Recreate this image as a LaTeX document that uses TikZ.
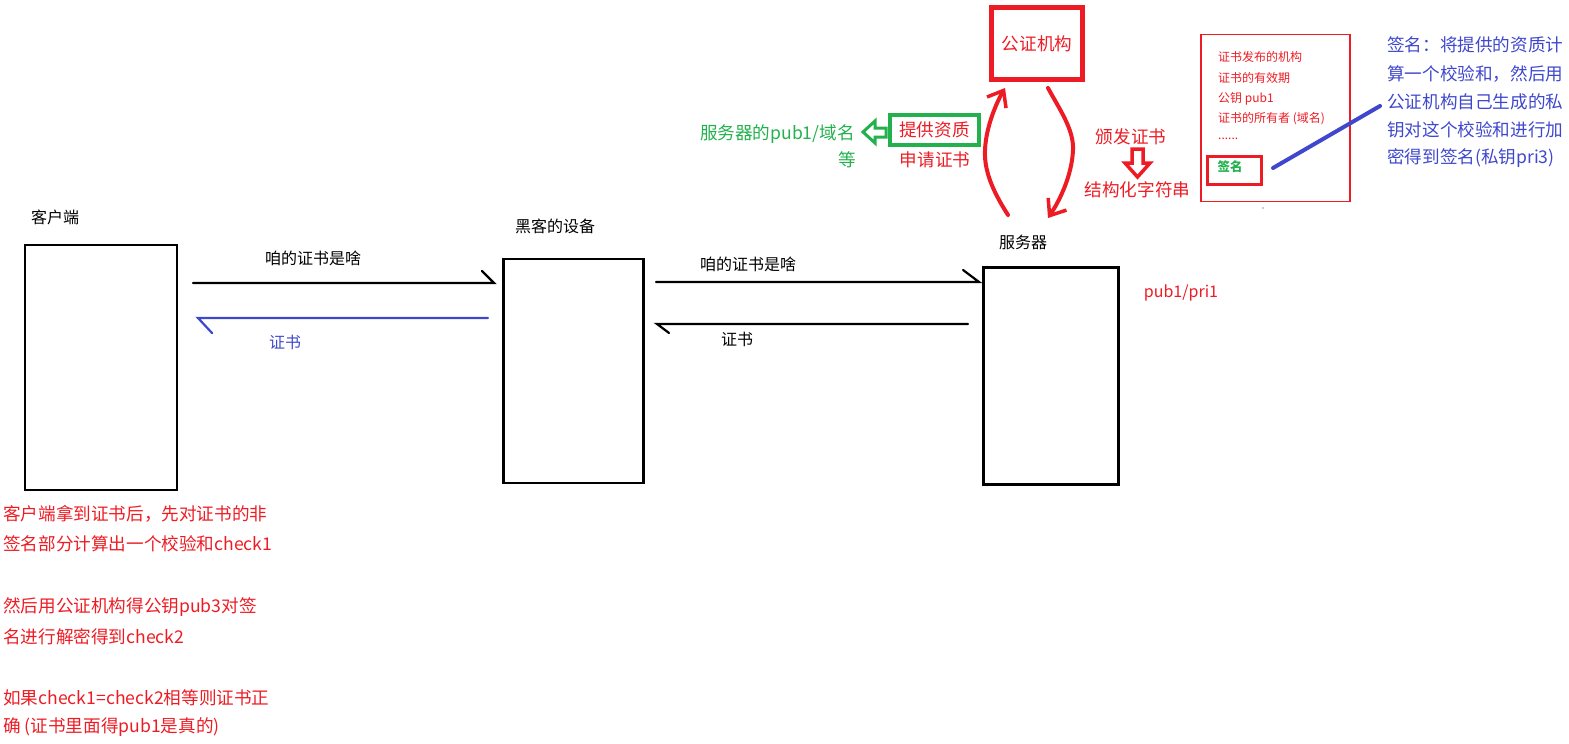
\documentclass[tikz,border=0pt]{standalone}
\usepackage{fontspec}
\setmainfont{Noto Sans CJK SC}
\usetikzlibrary{arrows.meta}
\definecolor{pred}{HTML}{ED1C24}
\definecolor{pgreen}{HTML}{22B14C}
\definecolor{pblue}{HTML}{3F48CC}
\begin{document}
\begin{tikzpicture}[x=1pt,y=-1pt,
  box/.style={draw=black,line width=2.6pt,inner sep=0pt,anchor=north west},
  lbl/.style={inner sep=0pt,font=\fontsize{16}{18}\selectfont},
  note/.style={inner sep=0pt,anchor=west,text=pred,font=\fontsize{17.6}{20}\selectfont},
  bnote/.style={inner sep=0pt,anchor=west,text=pblue,font=\fontsize{17.6}{20}\selectfont},
  small/.style={inner sep=0pt,anchor=west,text=pred,font=\fontsize{12}{14}\selectfont},
  big/.style={inner sep=0pt,font=\fontsize{17.6}{20}\selectfont},
  conn/.style={line width=2.2pt,line cap=round},
  hand/.style={line width=4pt,line cap=round,draw=pred},
]
\useasboundingbox (0,0) rectangle (1569,744);

% boxes
\node[box,minimum width=152pt,minimum height=245pt] (client) at (23.5,243.5) {};
\node[box,minimum width=140pt,minimum height=224pt] (hacker) at (502,257.5) {};
\node[box,minimum width=135pt,minimum height=217pt] (server) at (982,266) {};
\node[lbl] (clientl) at (55,217) {客户端};
\node[lbl] (hackerl) at (555,226) {黑客的设备};
\node[lbl] (serverl) at (1023,242) {服务器};
\node[lbl,text=pred] (keys) at (1181,293) {pub1/pri1};

% client <-> hacker
\coordinate (a1s) at (193,283);
\coordinate (a1e) at (494,283);
\draw[conn] (a1s) -- (a1e) -- ++(-12,-12);
\node[lbl] (a1l) at (313,258) {咱的证书是啥};
\coordinate (a2s) at (488,318);
\coordinate (a2e) at (198,318);
\draw[conn,draw=pblue] (a2s) -- (a2e) -- ++(14,15);
\node[lbl,text=pblue] (a2l) at (285,342) {证书};

% hacker <-> server
\coordinate (a3s) at (656,282);
\coordinate (a3e) at (979,282);
\draw[conn] (a3s) -- (a3e) -- ++(-16,-12);
\node[lbl] (a3l) at (748,264) {咱的证书是啥};
\coordinate (a4s) at (968,324);
\coordinate (a4e) at (657,324);
\draw[conn] (a4s) -- (a4e) -- ++(12,9);
\node[lbl] (a4l) at (737,339) {证书};

% CA
\node[draw=pred,line width=5pt,minimum width=91pt,minimum height=72pt,inner sep=0pt,text=pred,font=\fontsize{17.6}{20}\selectfont] (ca) at (1037,43.5) {公证机构};

% provide qualification
\node[draw=pgreen,line width=3.5pt,minimum width=89pt,minimum height=30pt,inner sep=0pt,text=pred,font=\fontsize{17.6}{20}\selectfont] (qual) at (934.5,130) {提供资质};
\draw[draw=pgreen,line width=3pt,fill=white,line join=miter] (863,132) -- (875,121) -- (875,128) -- (886,128) -- (886,137) -- (875,137) -- (875,143) -- cycle;
\node[big,text=pgreen,anchor=east] (qualdesc) at (855,134) {服务器的pub1/域名};
\node[big,text=pgreen] (qualdesc2) at (847,160) {等};
\node[big,text=pred] (apply) at (935,160) {申请证书};

% curved arrows
\coordinate (upS) at (1008,215);
\coordinate (upE) at (1005,88);
\draw[hand,-{Straight Barb[length=14pt,width=22pt,line width=3.5pt]}] (upS) .. controls (992,190) and (984,170) .. (985,150) .. controls (986,125) and (998,100) .. (upE);
\coordinate (dnS) at (1048,88);
\coordinate (dnE) at (1048,218);
\draw[hand,-{Straight Barb[length=14pt,width=22pt,line width=3.5pt]}] (dnS) .. controls (1060,110) and (1074,130) .. (1073,150) .. controls (1072,175) and (1060,200) .. (dnE);

\node[big,text=pred] (issue) at (1131,137) {颁发证书};
\draw[draw=pred,line width=3.5pt,fill=white,line join=miter] (1137.5,177) -- (1125,163) -- (1132,163) -- (1132,149) -- (1143,149) -- (1143,163) -- (1150,163) -- cycle;
\node[big,text=pred] (struct) at (1137.5,190) {结构化字符串};

% certificate contents
\node[draw=pred,line width=1.6pt,minimum width=149pt,minimum height=167pt,inner sep=0pt,anchor=north west] (cert) at (1200,33.5) {};
\node[small] (c1) at (1218,57) {证书发布的机构};
\node[small] (c2) at (1218,78) {证书的有效期};
\node[small] (c3) at (1218,99) {公钥 pub1};
\node[small] (c4) at (1218,119) {证书的所有者 (域名)};
\node[small] (c5) at (1218,139) {......};
\node[draw=pred,line width=3pt,minimum width=54pt,minimum height=28pt,inner sep=0pt,anchor=north west] (sigbox) at (1205.5,154.5) {};
\node[inner sep=0pt,text=pgreen,font=\fontsize{12.5}{14}\bfseries] (sig) at (1230,167) {签名};
\fill[pblue!60] (1263,208) circle (0.9pt);

% signature explanation
\node[bnote] (s1) at (1387,45) {签名：将提供的资质计};
\node[bnote] (s2) at (1387,74) {算一个校验和，然后用};
\node[bnote] (s3) at (1387,102) {公证机构自己生成的私};
\node[bnote] (s4) at (1387,130) {钥对这个校验和进行加};
\node[bnote] (s5) at (1387,158) {密得到签名(私钥pri3)};
\coordinate (blS) at (1273,168);
\coordinate (blE) at (1380,106);
\draw[draw=pblue,line width=4pt,line cap=round] (blS) -- (blE);

% client verification notes
\node[note] (n1) at (3,514) {客户端拿到证书后，先对证书的非};
\node[note] (n2) at (3,544) {签名部分计算出一个校验和check1};
\node[note] (n3) at (3,607) {然后用公证机构得公钥pub3对签};
\node[note] (n4) at (3,637) {名进行解密得到check2};
\node[note] (n5) at (3,698) {如果check1=check2相等则证书正};
\node[note] (n6) at (3,727) {确 (证书里面得pub1是真的)};
\end{tikzpicture}
\end{document}
